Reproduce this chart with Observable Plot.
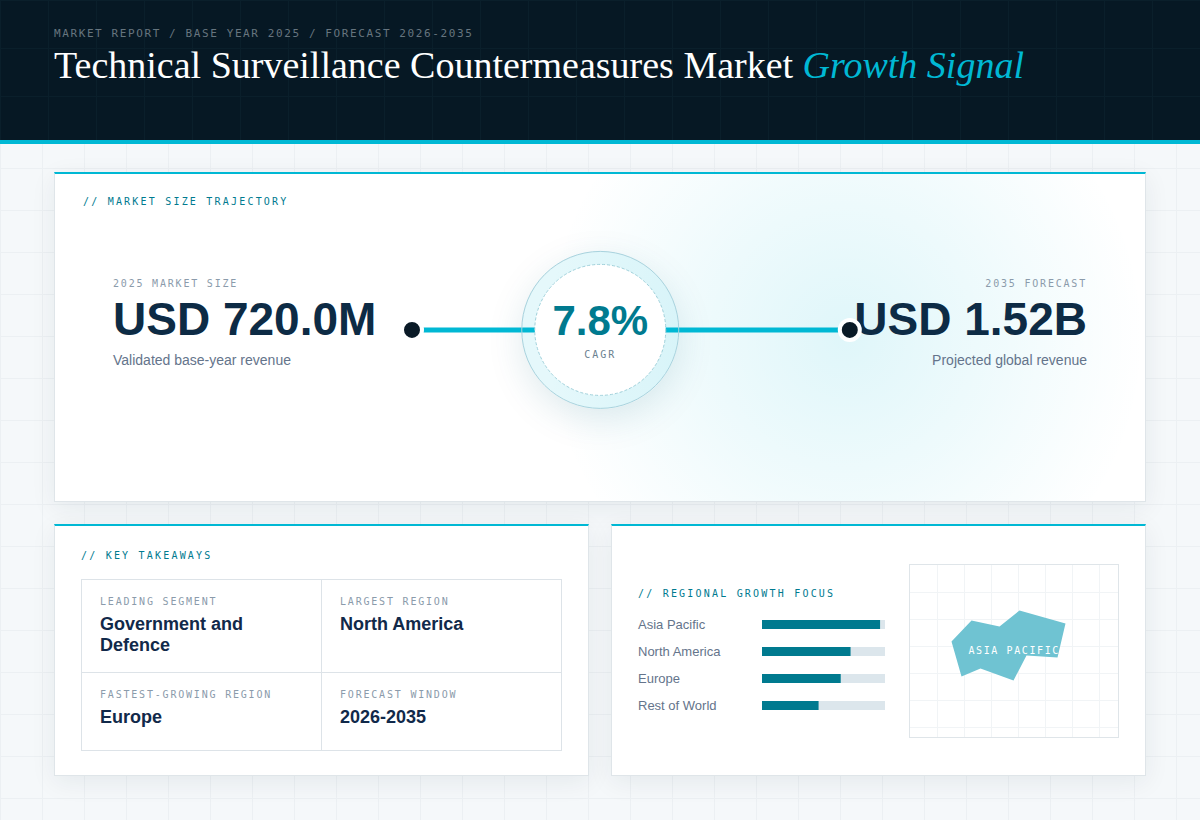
<!DOCTYPE html>
<html><head><meta charset="utf-8">
<script src="https://cdn.jsdelivr.net/npm/d3@7"></script>
<script src="https://cdn.jsdelivr.net/npm/@observablehq/plot@0.6"></script>
<style>
*{box-sizing:border-box}
html,body{margin:0;padding:0}
body{width:1200px;height:820px;overflow:hidden;position:relative;font-family:"Liberation Sans",sans-serif;
 background-color:#f5f8fa;
 background-image:linear-gradient(#ecf0f3 1px,transparent 1px),linear-gradient(90deg,#ecf0f3 1px,transparent 1px);
 background-size:42px 42px}
.abs{position:absolute}
.mono{font-family:"DejaVu Sans Mono",monospace}
#hdr{left:0;top:0;width:1200px;height:144px;background-color:#061824;border-bottom:4px solid #00b8d4;
 background-image:linear-gradient(#0a1f2b 1px,transparent 1px),linear-gradient(90deg,#0a1f2b 1px,transparent 1px);
 background-size:48px 48px}
#kick{left:54px;top:27px;font-size:11px;letter-spacing:1.6px;color:#66757f;white-space:nowrap;line-height:13px}
#ttl{left:54px;top:43px;font-family:"Liberation Serif",serif;font-size:38px;line-height:44px;color:#fff;white-space:nowrap}
#ttl em{color:#00b8d4;font-style:italic}
.card{position:absolute;background:#fff;border:1px solid #dfe5e9;border-top:2px solid #00b8d4;box-shadow:0 6px 24px rgba(10,40,60,.07)}
.ct{font-size:10px;letter-spacing:.22em;color:#007a8f;white-space:nowrap;line-height:12px}
.lab{font-size:10px;letter-spacing:.18em;color:#8b9bab;white-space:nowrap;line-height:12px}
.big{font-weight:700;font-size:46px;line-height:54px;color:#0d2b45;white-space:nowrap}
.sub{font-size:14px;color:#64748b;white-space:nowrap;line-height:18px}
.val{font-weight:700;font-size:18px;line-height:21px;color:#11294a}
.cell{position:absolute;border:1px solid #dde3e8}
svg{display:block;overflow:visible;background:transparent!important}
</style></head><body>
<div class="abs" id="hdr"></div>
<div class="abs mono" id="kick"></div>
<div class="abs" id="ttl"></div>

<div class="card" style="left:54px;top:172px;width:1092px;height:330px;overflow:hidden" id="c1">
  <div class="abs" style="left:0;top:0;right:0;bottom:0;background:radial-gradient(circle 300px at 790px 163px,rgba(0,184,212,.125),rgba(0,184,212,0) 100%)"></div>
</div>
<div class="abs" style="left:521.5px;top:251.5px;width:157px;height:157px;border-radius:50%;box-shadow:0 10px 36px rgba(0,90,115,.13)"></div>
<div class="abs mono ct" id="t1" style="left:83px;top:196px"></div>
<div class="abs mono lab" id="l1" style="left:113px;top:278px"></div>
<div class="abs big" id="v1" style="left:113px;top:292px"></div>
<div class="abs sub" id="s1" style="left:113px;top:351px"></div>
<div class="abs mono lab" id="l2" style="right:113px;top:278px"></div>
<div class="abs big" id="v2" style="right:113px;top:292px"></div>
<div class="abs sub" id="s2" style="right:113px;top:351px"></div>
<div class="abs" id="traj" style="left:54px;top:172px"></div>

<div class="card" style="left:54px;top:524px;width:535px;height:252px"></div>
<div class="abs mono ct" id="t2" style="left:81px;top:550px"></div>
<div id="cells"></div>

<div class="card" style="left:611px;top:524px;width:535px;height:252px"></div>
<div class="abs mono ct" id="t3" style="left:638px;top:588px"></div>
<div class="abs" id="bars" style="left:638px;top:611px"></div>
<div class="abs" id="map" style="left:909px;top:564px;width:210px;height:174px;border:1px solid #dfe5e9"></div>

<script>
// ---- text ----
const kicker = "MARKET REPORT / BASE YEAR 2025 / FORECAST 2026-2035";
const titleMain = "Technical Surveillance Countermeasures Market ";
const titleAccent = "Growth Signal";
const trajectoryTitle = "// MARKET SIZE TRAJECTORY";
const takeawaysTitle = "// KEY TAKEAWAYS";
const regionalTitle = "// REGIONAL GROWTH FOCUS";
const mapLabel = "ASIA PACIFIC";

// ---- trajectory ----
const startYear = 2025, endYear = 2035, badgeYear = 2029.30;
const startLabel = "2025 MARKET SIZE", startValue = "USD 720.0M", startNote = "Validated base-year revenue";
const endLabel = "2035 FORECAST", endValue = "USD 1.52B", endNote = "Projected global revenue";
const cagrValue = "7.8%", cagrLabel = "CAGR";

// ---- takeaways ----
const takeawayLabels = ["LEADING SEGMENT", "LARGEST REGION", "FASTEST-GROWING REGION", "FORECAST WINDOW"];
const takeawayValues = ["Government and Defence", "North America", "Europe", "2026-2035"];

// ---- regional bars ----
const regions = ["Asia Pacific", "North America", "Europe", "Rest of World"];
const regionShare = [96, 72, 64, 46];

// ---- map outline (map units) ----
const mapX = [61, 89, 109, 155, 147, 116, 103, 70, 51, 41];
const mapY = [55, 61, 45, 58, 92, 90, 115, 103, 111, 76];
const mapGridX = [27, 54, 81, 108, 135, 162, 189];
const mapGridY = [27, 54, 81, 108, 135, 162];

// ---- fill in text ----
const $ = id => document.getElementById(id);
$("kick").textContent = kicker;
$("ttl").append(titleMain);
const em = document.createElement("em"); em.textContent = titleAccent; $("ttl").append(em);
$("t1").textContent = trajectoryTitle; $("t2").textContent = takeawaysTitle; $("t3").textContent = regionalTitle;
$("l1").textContent = startLabel; $("v1").textContent = startValue; $("s1").textContent = startNote;
$("l2").textContent = endLabel; $("v2").textContent = endValue; $("s2").textContent = endNote;

// ---- takeaways grid ----
const cellBoxes = [[81,579,241,94],[321,579,241,94],[81,672,241,79],[321,672,241,79]];
cellBoxes.forEach(([l,t,w,h],i) => {
  const d = document.createElement("div");
  d.className = "cell";
  d.style.cssText = `left:${l}px;top:${t}px;width:${w}px;height:${h}px`;
  d.innerHTML = `<div class="abs mono lab" style="left:18px;top:16px">${takeawayLabels[i]}</div>
    <div class="abs val" style="left:18px;top:34px;width:204px">${takeawayValues[i]}</div>`;
  $("cells").append(d);
});

// ---- trajectory chart ----
const pts = [{yr:startYear},{yr:endYear}];
$("traj").append(Plot.plot({
  width:1092,height:330,margin:0,style:{background:"transparent"},
  x:{domain:[startYear,endYear],range:[357.5,795.3],axis:null},
  y:{domain:[0,1],range:[157.4,157.4],axis:null},
  marks:[
    Plot.line(pts,{x:"yr",y:()=>0,stroke:"#00b8d4",strokeWidth:5}),
    Plot.dot([badgeYear],{x:d=>d,y:()=>0,r:78.5,fill:"rgba(0,184,212,.1)",stroke:"#a9d3de",strokeWidth:1}),
    Plot.dot([badgeYear],{x:d=>d,y:()=>0,r:65.5,fill:"#fff",stroke:"#9fd0da",strokeWidth:1,strokeDasharray:"3,2"}),
    Plot.dot(pts,{x:"yr",y:()=>0,r:10,fill:"#0a1a26",stroke:"#fff",strokeWidth:4}),
    Plot.text([cagrValue],{x:()=>badgeYear,y:()=>0,text:d=>d,dy:-8.5,fontSize:42,fontWeight:700,fill:"#007a8f",fontFamily:"Liberation Sans"}),
    Plot.text([cagrLabel],{x:()=>badgeYear,y:()=>0,text:d=>d,dy:25,fontSize:10,fill:"#6b7f8f",fontFamily:"DejaVu Sans Mono"})
  ]
}));
$("traj").querySelectorAll("text").forEach(t=>{ if(t.textContent===cagrLabel) t.style.letterSpacing=".2em"; });

// ---- bars ----
const rows = regions.map((r,i)=>({r,v:regionShare[i]}));
$("bars").append(Plot.plot({
  width:247,height:108,marginTop:0,marginBottom:0,marginRight:0,marginLeft:124,style:{background:"transparent"},
  x:{domain:[0,100],axis:null},
  y:{domain:regions,padding:0,axis:null},
  marks:[
    Plot.barX(rows,{y:"r",x1:()=>0,x2:()=>100,fill:"#dce6ec",insetTop:9,insetBottom:9}),
    Plot.barX(rows,{y:"r",x1:()=>0,x2:"v",fill:"#007a8f",insetTop:9,insetBottom:9}),
    Plot.text(rows,{y:"r",text:"r",frameAnchor:"left",dx:-124.5,textAnchor:"start",fontSize:13,fill:"#64748b",fontFamily:"Liberation Sans"})
  ]
}));

// ---- map ----
$("map").append(Plot.plot({
  width:208,height:172,margin:0,style:{background:"transparent"},
  x:{domain:[0,208],range:[0,208],axis:null},
  y:{domain:[0,172],range:[0,172],axis:null},
  marks:[
    Plot.ruleX(mapGridX,{stroke:"#f1f4f6",strokeWidth:1}),
    Plot.ruleY(mapGridY,{stroke:"#f1f4f6",strokeWidth:1}),
    Plot.line(mapX.map((x,i)=>({x,y:mapY[i]})),{x:"x",y:"y",curve:"linear-closed",fill:"#6fc3d2",stroke:"none"}),
    Plot.text([mapLabel],{x:()=>58,y:()=>85,text:d=>d,textAnchor:"start",fontSize:10,fill:"#fff",fontFamily:"DejaVu Sans Mono"})
  ]
}));
$("map").querySelectorAll("text").forEach(t=>t.style.letterSpacing=".16em");
</script>
</body></html>
